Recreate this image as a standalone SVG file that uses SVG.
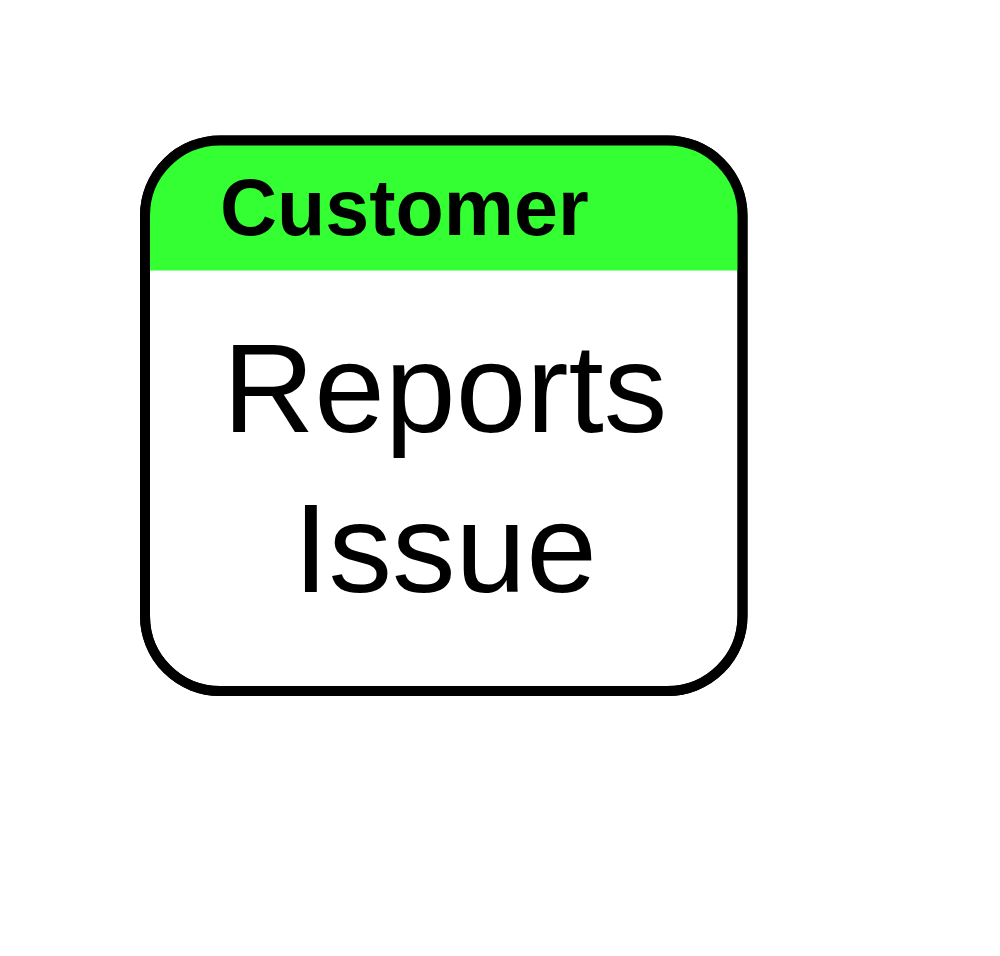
<svg xmlns="http://www.w3.org/2000/svg" width="1000" height="956" viewBox="0 0 1000 956">
  <defs>
    <style>
      .box { fill: #ffffff; stroke: #000000; stroke-width: 10; }
      .hdr { fill: #33ff33; }
      .title { font-family: "Liberation Sans", Arial, sans-serif; font-weight: bold; font-size: 79px; fill: #000; }
      .body { font-family: "Liberation Sans", Arial, sans-serif; font-size: 127px; fill: #000; text-anchor: middle; }
    </style>
    <clipPath id="clipBox">
      <rect x="145" y="140.5" width="597.5" height="550.5" rx="75" ry="75"/>
    </clipPath>
  </defs>
  <rect width="1000" height="956" fill="#ffffff"/>
  <g id="node-customer-reports-issue">
    <rect class="box" x="145" y="140.5" width="597.5" height="550.5" rx="75" ry="75"/>
    <rect class="hdr" x="140" y="135" width="610" height="135.5" clip-path="url(#clipBox)"/>
    <rect x="145" y="140.5" width="597.5" height="550.5" rx="75" ry="75" fill="none" stroke="#000" stroke-width="10"/>
    <text class="title" x="220" y="234.5">Customer</text>
    <text class="body" x="445" y="431.7">Reports</text>
    <text class="body" x="445" y="591.7">Issue</text>
  </g>
  <g id="connectors"></g>
</svg>
